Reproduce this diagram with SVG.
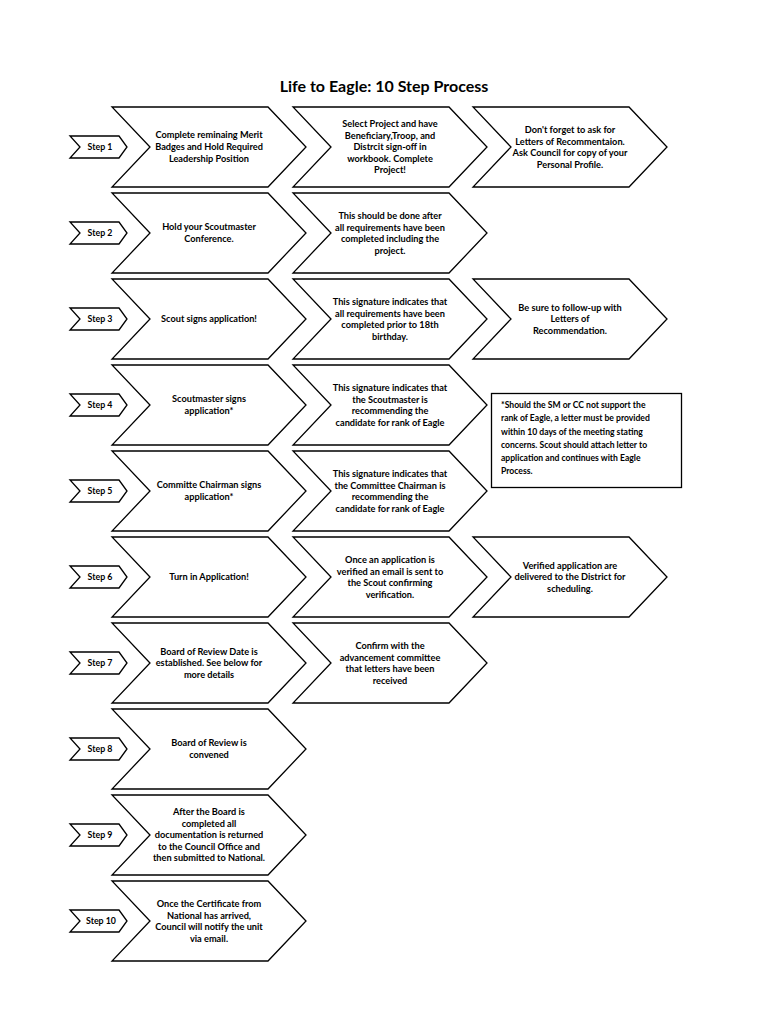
<svg xmlns="http://www.w3.org/2000/svg" xmlns:xlink="http://www.w3.org/1999/xlink" width="768" height="1024" viewBox="0 0 768 1024">
<defs>
<style>
.ch{fill:#fff;stroke:#000;stroke-width:1.3;stroke-linejoin:miter}
.t{font-family:Lato,"Open Sans","Liberation Sans",sans-serif;font-size:9.2px;font-weight:bold;fill:#000;text-anchor:middle}
.s{font-family:Lato,"Open Sans","Liberation Sans",sans-serif;font-size:8.8px;font-weight:bold;fill:#000;text-anchor:middle}
.n{font-family:Lato,"Open Sans","Liberation Sans",sans-serif;font-size:8.6px;font-weight:bold;fill:#000}
.ti{font-family:Lato,"Open Sans","Liberation Sans",sans-serif;font-size:16px;font-weight:bold;fill:#000;text-anchor:middle}
</style>
<polygon id="chev" class="ch" points="0,0 156,0 194,40 156,80 0,80 38,40"/>
<polygon id="step" class="ch" points="0,0 49,0 57,11 49,22 0,22 10,11"/>
</defs>
<rect width="768" height="1024" fill="#fff"/>
<text id="title" class="ti" x="384" y="92">Life to Eagle: 10 Step Process</text>

<g id="connectors"></g>

<!-- Row 1 -->
<g id="step1" transform="translate(70,136)"><use xlink:href="#step"/><text class="s" x="30" y="14.3">Step 1</text></g>
<g id="r1c1" transform="translate(112,107)"><use xlink:href="#chev"/>
<text class="t" x="97" y="31">Complete reminaing Merit</text><text class="t" x="97" y="43">Badges and Hold Required</text><text class="t" x="97" y="55">Leadership Position</text></g>
<g id="r1c2" transform="translate(293,107)"><use xlink:href="#chev"/>
<text class="t" x="97" y="20">Select Project and have</text><text class="t" x="97" y="31.5">Beneficiary,Troop, and</text><text class="t" x="97" y="43">Distrcit sign-off in</text><text class="t" x="97" y="54.5">workbook. Complete</text><text class="t" x="97" y="66">Project!</text></g>
<g id="r1c3" transform="translate(473,107)"><use xlink:href="#chev"/>
<text class="t" x="97" y="26">Don't forget to ask for</text><text class="t" x="97" y="37.5">Letters of Recommentaion.</text><text class="t" x="97" y="49">Ask Council for copy of your</text><text class="t" x="97" y="60.5">Personal Profile.</text></g>

<!-- Row 2 -->
<g id="step2" transform="translate(70,222)"><use xlink:href="#step"/><text class="s" x="30" y="14.3">Step 2</text></g>
<g id="r2c1" transform="translate(112,193)"><use xlink:href="#chev"/>
<text class="t" x="97" y="37">Hold your Scoutmaster</text><text class="t" x="97" y="49">Conference.</text></g>
<g id="r2c2" transform="translate(293,193)"><use xlink:href="#chev"/>
<text class="t" x="97" y="26">This should be done after</text><text class="t" x="97" y="37.5">all requirements have been</text><text class="t" x="97" y="49">completed including the</text><text class="t" x="97" y="60.5">project.</text></g>

<!-- Row 3 -->
<g id="step3" transform="translate(70,308)"><use xlink:href="#step"/><text class="s" x="30" y="14.3">Step 3</text></g>
<g id="r3c1" transform="translate(112,279)"><use xlink:href="#chev"/>
<text class="t" x="97" y="43">Scout signs application!</text></g>
<g id="r3c2" transform="translate(293,279)"><use xlink:href="#chev"/>
<text class="t" x="97" y="26">This signature indicates that</text><text class="t" x="97" y="37.5">all requirements have been</text><text class="t" x="97" y="49">completed prior to 18th</text><text class="t" x="97" y="60.5">birthday.</text></g>
<g id="r3c3" transform="translate(473,279)"><use xlink:href="#chev"/>
<text class="t" x="97" y="31.5">Be sure to follow-up with</text><text class="t" x="97" y="43">Letters of</text><text class="t" x="97" y="54.5">Recommendation.</text></g>

<!-- Row 4 -->
<g id="step4" transform="translate(70,394)"><use xlink:href="#step"/><text class="s" x="30" y="14.3">Step 4</text></g>
<g id="r4c1" transform="translate(112,365)"><use xlink:href="#chev"/>
<text class="t" x="97" y="37">Scoutmaster signs</text><text class="t" x="97" y="49">application*</text></g>
<g id="r4c2" transform="translate(293,365)"><use xlink:href="#chev"/>
<text class="t" x="97" y="26">This signature indicates that</text><text class="t" x="97" y="37.5">the Scoutmaster is</text><text class="t" x="97" y="49">recommending the</text><text class="t" x="97" y="60.5">candidate for rank of Eagle</text></g>
<g id="note">
<rect x="491.5" y="393.5" width="190" height="94" fill="#fff" stroke="#000" stroke-width="1.3"/>
<text class="n" x="501" y="408">*Should the SM or CC not support the</text>
<text class="n" x="501" y="421">rank of Eagle, a letter must be provided</text>
<text class="n" x="501" y="434.5">within 10 days of the meeting stating</text>
<text class="n" x="501" y="447.5">concerns. Scout should attach letter to</text>
<text class="n" x="501" y="461">application and continues with Eagle</text>
<text class="n" x="501" y="474">Process.</text>
</g>

<!-- Row 5 -->
<g id="step5" transform="translate(70,480)"><use xlink:href="#step"/><text class="s" x="30" y="14.3">Step 5</text></g>
<g id="r5c1" transform="translate(112,451)"><use xlink:href="#chev"/>
<text class="t" x="97" y="37">Committe Chairman signs</text><text class="t" x="97" y="49">application*</text></g>
<g id="r5c2" transform="translate(293,451)"><use xlink:href="#chev"/>
<text class="t" x="97" y="26">This signature indicates that</text><text class="t" x="97" y="37.5">the Committee Chairman is</text><text class="t" x="97" y="49">recommending the</text><text class="t" x="97" y="60.5">candidate for rank of Eagle</text></g>

<!-- Row 6 -->
<g id="step6" transform="translate(70,566)"><use xlink:href="#step"/><text class="s" x="30" y="14.3">Step 6</text></g>
<g id="r6c1" transform="translate(112,537)"><use xlink:href="#chev"/>
<text class="t" x="97" y="43">Turn in Application!</text></g>
<g id="r6c2" transform="translate(293,537)"><use xlink:href="#chev"/>
<text class="t" x="97" y="26">Once an application is</text><text class="t" x="97" y="37.5">verified an email is sent to</text><text class="t" x="97" y="49">the Scout confirming</text><text class="t" x="97" y="60.5">verification.</text></g>
<g id="r6c3" transform="translate(473,537)"><use xlink:href="#chev"/>
<text class="t" x="97" y="31.5">Verified application are</text><text class="t" x="97" y="43">delivered to the District for</text><text class="t" x="97" y="54.5">scheduling.</text></g>

<!-- Row 7 -->
<g id="step7" transform="translate(70,652)"><use xlink:href="#step"/><text class="s" x="30" y="14.3">Step 7</text></g>
<g id="r7c1" transform="translate(112,623)"><use xlink:href="#chev"/>
<text class="t" x="97" y="31.5">Board of Review Date is</text><text class="t" x="97" y="43">established. See below for</text><text class="t" x="97" y="54.5">more details</text></g>
<g id="r7c2" transform="translate(293,623)"><use xlink:href="#chev"/>
<text class="t" x="97" y="26">Confirm with the</text><text class="t" x="97" y="37.5">advancement committee</text><text class="t" x="97" y="49">that letters have been</text><text class="t" x="97" y="60.5">received</text></g>

<!-- Row 8 -->
<g id="step8" transform="translate(70,738)"><use xlink:href="#step"/><text class="s" x="30" y="14.3">Step 8</text></g>
<g id="r8c1" transform="translate(112,709)"><use xlink:href="#chev"/>
<text class="t" x="97" y="37">Board of Review is</text><text class="t" x="97" y="49">convened</text></g>

<!-- Row 9 -->
<g id="step9" transform="translate(70,824)"><use xlink:href="#step"/><text class="s" x="30" y="14.3">Step 9</text></g>
<g id="r9c1" transform="translate(112,795)"><use xlink:href="#chev"/>
<text class="t" x="97" y="20">After the Board is</text><text class="t" x="97" y="31.5">completed all</text><text class="t" x="97" y="43">documentation is returned</text><text class="t" x="97" y="54.5">to the Council Office and</text><text class="t" x="97" y="66">then submitted to National.</text></g>

<!-- Row 10 -->
<g id="step10" transform="translate(70,910)"><use xlink:href="#step"/><text class="s" x="31" y="14.3">Step 10</text></g>
<g id="r10c1" transform="translate(112,881)"><use xlink:href="#chev"/>
<text class="t" x="97" y="26">Once the Certificate from</text><text class="t" x="97" y="37.5">National has arrived,</text><text class="t" x="97" y="49">Council will notify the unit</text><text class="t" x="97" y="60.5">via email.</text></g>
</svg>
